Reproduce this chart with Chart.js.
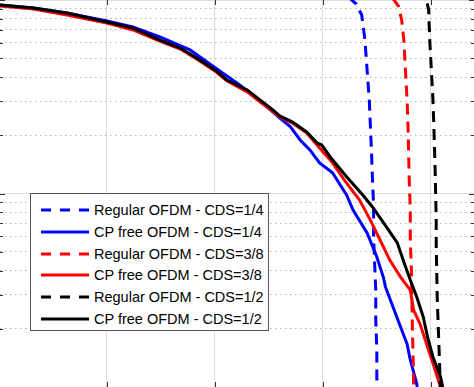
<!DOCTYPE html>
<html><head><meta charset="utf-8">
<script src="https://cdn.jsdelivr.net/npm/chart.js@4/dist/chart.umd.min.js"></script>
<style>
html,body{margin:0;padding:0;background:#fff;}
#wrap{position:relative;width:474px;height:387px;overflow:hidden;}
#c{position:absolute;left:0;top:0;}
#legend{position:absolute;left:30px;top:193px;width:237px;height:136px;border:1px solid #555;background:#fff;font-family:"Liberation Sans",Arial,sans-serif;font-size:14.5px;color:#000;}
.row{position:absolute;left:0;height:20px;width:237px;}
.row svg{position:absolute;left:9px;top:7px;}
.row span{position:absolute;left:63px;top:1px;white-space:nowrap;line-height:18px;}
</style></head>
<body>
<div id="wrap"><canvas id="c" width="474" height="387"></canvas><div id="legend"></div></div>
<script>
const labels = ["Regular OFDM - CDS=1/4","CP free OFDM - CDS=1/4","Regular OFDM - CDS=3/8","CP free OFDM - CDS=3/8","Regular OFDM - CDS=1/2","CP free OFDM - CDS=1/2"];
const colors = ["#0000ff","#0000ff","#ff0000","#ff0000","#000000","#000000"];
const dashed = [true,false,true,false,true,false];

const regular14X = [9.11,9.25,9.31,9.36,9.39,9.41,9.43,9.44,9.45,9.46,9.47,9.47,9.48,9.49,9.49,9.50,9.50];
const regular14Y = [0.1195,0.102,0.0953,0.0836,0.0621,0.0435,0.0304,0.0226,0.0168,0.0117,0.00872,0.0061,0.00427,0.00317,0.00222,0.00155,0.00091];
const cpFree14X = [6.01,6.32,6.63,7.00,7.24,7.49,7.77,7.98,8.23,8.42,8.60,8.70,8.79,8.88,8.97,9.09,9.16,9.22,9.28,9.41,9.50,9.56,9.58,9.65,9.72,9.78,9.81,9.87,9.88];
const cpFree14Y = [0.0942,0.0909,0.0857,0.0779,0.0725,0.0644,0.0552,0.0456,0.0364,0.0301,0.0246,0.0221,0.0189,0.0168,0.0144,0.0128,0.0111,0.00982,0.00822,0.00625,0.0047,0.0037,0.00329,0.00259,0.00204,0.00167,0.00138,0.00104,0.00091];
const regular38X = [9.53,9.66,9.70,9.73,9.75,9.77,9.78,9.79,9.80,9.81,9.81,9.82,9.83,9.84,9.84];
const regular38Y = [0.1195,0.1,0.0931,0.0788,0.0621,0.0386,0.0304,0.0213,0.0117,0.00822,0.00575,0.00402,0.00197,0.00115,0.00091];
const cpFree38X = [6.01,6.32,6.63,7.00,7.24,7.49,7.68,7.86,8.00,8.11,8.30,8.42,8.54,8.60,8.72,8.85,8.97,9.09,9.22,9.34,9.44,9.53,9.62,9.72,9.81,9.84,9.90,9.96,10.01,10.06,10.09,10.10];
const cpFree38Y = [0.0931,0.0899,0.0836,0.0761,0.07,0.0614,0.0558,0.0484,0.043,0.0382,0.0335,0.0297,0.0264,0.0249,0.0231,0.0206,0.0172,0.0144,0.0113,0.00926,0.00729,0.00575,0.00453,0.0037,0.00317,0.0025,0.00212,0.00167,0.00138,0.00113,0.001,0.00091];
const regular12X = [9.88,9.96,9.98,9.99,10.00,10.01,10.02,10.03,10.04,10.05,10.05,10.06,10.07,10.08,10.09];
const regular12Y = [0.115,0.1,0.0888,0.0621,0.049,0.0386,0.0304,0.0206,0.0132,0.00729,0.00542,0.00282,0.00197,0.00138,0.00091];
const cpFree12X = [6.01,6.32,6.63,7.00,7.24,7.49,7.68,7.86,8.00,8.11,8.30,8.42,8.54,8.60,8.72,8.85,8.95,8.99,9.07,9.22,9.37,9.46,9.59,9.69,9.76,9.81,9.87,9.93,9.97,10.02,10.09,10.11,10.13];
const cpFree12Y = [0.0942,0.0909,0.0857,0.077,0.0717,0.0621,0.0565,0.049,0.0435,0.0386,0.0343,0.0304,0.027,0.0252,0.0234,0.0208,0.0182,0.0178,0.0154,0.0122,0.00982,0.00852,0.00671,0.00555,0.00427,0.00357,0.00292,0.0023,0.00181,0.00143,0.00113,0.001,0.00091];

const xTicks = [7,8,9,10];
const yTicks = [0.001,0.002,0.003,0.004,0.005,0.006,0.007,0.008,0.009,0.01,0.02,0.03,0.04,0.05,0.06,0.07,0.08,0.09,0.1];

const seriesX = [regular14X,cpFree14X,regular38X,cpFree38X,regular12X,cpFree12X];
const seriesY = [regular14Y,cpFree14Y,regular38Y,cpFree38Y,regular12Y,cpFree12Y];

const isMajor = v => Math.abs(Math.log10(v) - Math.round(Math.log10(v))) < 1e-6;
const DASH = [11,7];

const datasets = labels.map((lab,i) => ({
  label: lab,
  data: seriesX[i].map((x,j) => ({x: x, y: seriesY[i][j]})),
  borderColor: colors[i],
  backgroundColor: colors[i],
  borderWidth: 3,
  borderDash: dashed[i] ? DASH : [],
  pointRadius: 0,
  tension: 0,
  fill: false,
  order: 5 - i
}));

const tickPlugin = {
  id: 'innerTicks',
  afterDatasetsDraw(chart) {
    const ctx = chart.ctx, xs = chart.scales.x, ys = chart.scales.y, a = chart.chartArea;
    ctx.save();
    ctx.strokeStyle = '#333';
    ctx.lineWidth = 1;
    ctx.beginPath();
    yTicks.forEach(v => {
      const y = Math.round(ys.getPixelForValue(v)) + 0.5;
      const len = isMajor(v) ? 5 : 3;
      ctx.moveTo(a.left, y); ctx.lineTo(a.left + len, y);
      ctx.moveTo(a.right, y); ctx.lineTo(a.right - len, y);
    });
    xTicks.forEach(v => {
      const x = Math.round(xs.getPixelForValue(v)) + 0.5;
      ctx.moveTo(x, a.top); ctx.lineTo(x, a.top + 5);
      ctx.moveTo(x, a.bottom); ctx.lineTo(x, a.bottom - 5);
    });
    ctx.stroke();
    ctx.restore();
  }
};

const chart = new Chart(document.getElementById('c'), {
  type: 'line',
  data: { datasets },
  options: {
    responsive: false,
    devicePixelRatio: 1,
    animation: false,
    layout: { padding: 0, autoPadding: false },
    plugins: { legend: { display: false }, tooltip: { enabled: false }, title: { display: false } },
    scales: {
      x: {
        type: 'linear', min: 6.01, max: 10.4,
        afterBuildTicks: s => { s.ticks = xTicks.map(v => ({value: v})); },
        ticks: { display: false },
        grid: { color: '#dcdcdc', lineWidth: 1, drawTicks: false },
        border: { display: false }
      },
      y: {
        type: 'logarithmic', min: 0.001, max: 0.1,
        afterBuildTicks: s => { s.ticks = yTicks.map(v => ({value: v})); },
        ticks: { display: false },
        grid: {
          drawTicks: false, lineWidth: 1,
          color: c => (c.tick && !isMajor(c.tick.value)) ? '#b4b4b4' : '#dcdcdc'
        },
        border: {
          display: false,
          dash: c => (c.tick && !isMajor(c.tick.value)) ? [1.5, 3.5] : []
        }
      }
    }
  },
  plugins: [tickPlugin]
});

// HTML legend built from the chart's datasets
const leg = document.getElementById('legend');
chart.data.datasets.forEach((ds, i) => {
  const row = document.createElement('div');
  row.className = 'row';
  row.style.top = (6 + i * 21.8) + 'px';
  const dash = dashed[i] ? 'stroke-dasharray="10,9"' : '';
  row.innerHTML = '<svg width="50" height="6"><line x1="1" y1="3" x2="49" y2="3" stroke="' + ds.borderColor + '" stroke-width="3" ' + dash + '/></svg><span>' + ds.label + '</span>';
  leg.appendChild(row);
});
</script>
</body></html>
